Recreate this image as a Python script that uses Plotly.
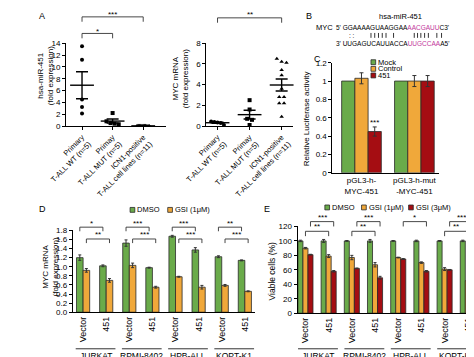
import numpy as np
import plotly.graph_objects as go

W, H = 474, 357
FONT = "Arial, 'Liberation Sans', sans-serif"
BLACK = "#000000"
GREEN = "#6aab4a"
ORANGE = "#f0a83a"
RED = "#a50d12"
PINK = "#c2379b"
EDGE = "#2a2a2a"

# ---------------- Panel A data ----------------
a_groups = ["Primary<br>T-ALL WT (n=5)", "Primay<br>T-ALL MUT (n=5)",
            "ICN1-positive<br>T-ALL cell lines (n=11)"]
mir451_wt = [13.5, 11.2, 4.5, 3.2, 2.1]
mir451_mut = [2.2, 0.8, 0.5, 0.4, 0.3]
mir451_lines = [0.05, 0.04, 0.03, 0.05, 0.02, 0.04, 0.03, 0.02, 0.04, 0.03, 0.02]
myc_wt = [0.45, 0.40, 0.35, 0.30, 0.10]
myc_mut = [2.5, 1.6, 0.7, 0.6, 0.1]
myc_lines = [6.5, 6.2, 6.1, 5.4, 4.9, 3.6, 2.8, 2.8, 2.2, 2.2, 0.9]
a_symbols = ["circle", "square", "triangle-up"]

# ---------------- Panel B text ----------------
mir_name = "hsa-miR-451"
myc_seed_5 = "GGAAAAGUAAGGAA"
myc_seed_site = "AACGAUU"
myc_seed_3 = "C"
mir_seq_a = "UUGAGUCAUUACCA"
mir_seq_site = "UUGCCAA"
mir_seq_b = "A"

# ---------------- Panel C data ----------------
luc_groups = ["pGL3-h-<br>MYC-451", "pGL3-h-mut<br>-MYC-451"]
luc_series = ["Mock", "Control", "451"]
luc_mock = [1.00, 1.00]
luc_mock_err = [0.0, 0.0]
luc_control = [1.03, 1.00]
luc_control_err = [0.06, 0.06]
luc_451 = [0.45, 1.00]
luc_451_err = [0.05, 0.06]

# ---------------- Panel D/E data ----------------
cell_lines = ["JURKAT", "RPMI-8402", "HPB-ALL", "KOPT-K1"]
constructs = ["Vector", "451"]
d_series = ["DMSO", "GSI (1\u03bcM)"]
myc_dmso = [1.20, 1.02, 1.52, 0.98, 1.67, 1.37, 1.22, 1.14]
myc_dmso_err = [0.06, 0.02, 0.07, 0.01, 0.02, 0.05, 0.02, 0.01]
myc_gsi = [0.92, 0.70, 1.03, 0.55, 0.78, 0.55, 0.59, 0.46]
myc_gsi_err = [0.04, 0.04, 0.05, 0.02, 0.01, 0.04, 0.02, 0.01]
d_sig_dmso = ["*", "***", "***", "**"]
d_sig_gsi = ["**", "***", "***", "***"]

e_series = ["DMSO", "GSI (1\u03bcM)", "GSI (3\u03bcM)"]
via_dmso = [100, 100, 100, 100, 100, 100, 100, 100]
via_dmso_err = [1, 2, 0.5, 2, 0.5, 1, 0.5, 1]
via_gsi1 = [90, 79, 77, 67, 77, 70, 61, 45]
via_gsi1_err = [1, 2, 3, 3, 0.5, 1, 2, 5]
via_gsi3 = [81, 58, 62, 49, 75, 58, 60, 37]
via_gsi3_err = [0.5, 1, 0.5, 2, 0.5, 1, 0.5, 3]
e_sig_gsi1 = ["**", "**", "", "**"]
e_sig_gsi3 = ["***", "***", "*", "***"]


def X(px):
    return px / W


def Y(py):
    return 1 - py / H


def swarm(vals, thresh, step, maxw):
    v = np.asarray(vals, float)
    order = list(np.argsort(-v, kind="stable"))
    offs = np.zeros(len(v))
    clusters, cur = [], [order[0]]
    for i in order[1:]:
        if abs(v[cur[-1]] - v[i]) < thresh:
            cur.append(i)
        else:
            clusters.append(cur)
            cur = [i]
    clusters.append(cur)
    for c in clusters:
        n = len(c)
        if n > 1:
            s = min(step, maxw / (n - 1))
            for k, idx in enumerate(c):
                offs[idx] = (k - (n - 1) / 2) * s
    return offs


fig = go.Figure()
shapes = []
annotations = []


def text(x, y, t, size=8, xanchor="center", yanchor="middle", angle=0,
         xref="paper", yref="paper", color=BLACK):
    annotations.append(dict(x=x, y=y, text=t, xref=xref, yref=yref,
                            showarrow=False, xanchor=xanchor, yanchor=yanchor,
                            textangle=angle, borderpad=0,
                            font=dict(size=size, color=color, family=FONT)))


def bracket(xref, yref, x0, x1, y, drop):
    shapes.append(dict(type="path", xref=xref, yref=yref,
                       path=f"M{x0},{y - drop} L{x0},{y} L{x1},{y} L{x1},{y - drop}",
                       line=dict(color="#333", width=0.9)))


# ---------------- Panel A scatter ----------------
def scatter_panel(groups_vals, xa, ya, thresh):
    means, sems = [], []
    for gi, vals in enumerate(groups_vals):
        offs = swarm(vals, thresh, 0.15, 0.4)
        fig.add_trace(go.Scatter(
            x=gi + offs, y=vals, mode="markers", xaxis=xa, yaxis=ya,
            marker=dict(symbol=a_symbols[gi], size=4, color=BLACK),
            cliponaxis=False, hoverinfo="skip"))
        arr = np.asarray(vals, float)
        means.append(arr.mean())
        sems.append(arr.std(ddof=1) / np.sqrt(len(arr)))
    fig.add_trace(go.Scatter(
        x=list(range(len(groups_vals))), y=means, mode="markers",
        xaxis=xa, yaxis=ya, cliponaxis=False,
        marker=dict(symbol="line-ew", size=17, color=BLACK,
                    line=dict(color=BLACK, width=1.4)),
        error_y=dict(type="data", array=sems, color=BLACK, thickness=1.4, width=6),
        hoverinfo="skip"))


scatter_panel([mir451_wt, mir451_mut, mir451_lines], "x", "y", 0.66)
scatter_panel([myc_wt, myc_mut, myc_lines], "x2", "y2", 0.38)

# brackets panel A (above plot area, paper y)
bracket("x", "paper", 0, 2, Y(5), 5 / H)
text(1, Y(3), "***", size=8, xref="x")
bracket("x", "paper", 0, 1, Y(22), 5 / H)
text(0.5, Y(19.5), "*", size=8, xref="x")
bracket("x2", "paper", 0, 2, Y(6), 5 / H)
text(1, Y(3), "**", size=8, xref="x2")

# ---------------- Panel C bars ----------------
wc = 0.25
for k, (name, vals, err, col) in enumerate(zip(
        luc_series, [luc_mock, luc_control, luc_451],
        [luc_mock_err, luc_control_err, luc_451_err], [GREEN, ORANGE, RED])):
    fig.add_trace(go.Bar(
        x=[0, 1], y=vals, width=wc, offset=-1.5 * wc + k * wc, name=name,
        xaxis="x3", yaxis="y3",
        marker=dict(color=col, line=dict(color=EDGE, width=0.8)),
        error_y=dict(type="data", array=err, color="#333", thickness=1, width=2,
                     visible=any(e > 0 for e in err)),
        hoverinfo="skip"))
text(wc, luc_451[0] + 0.1, "***", size=8, xref="x3", yref="y3")

# ---------------- Panel D bars ----------------
wd = 0.285
xs = list(range(len(cell_lines) * len(constructs)))
for k, (vals, err, col) in enumerate(zip([myc_dmso, myc_gsi],
                                         [myc_dmso_err, myc_gsi_err],
                                         [GREEN, ORANGE])):
    fig.add_trace(go.Bar(
        x=xs, y=vals, width=wd, offset=-wd + k * wd, xaxis="x4", yaxis="y4",
        marker=dict(color=col, line=dict(color=EDGE, width=0.8)),
        error_y=dict(type="data", array=err, color="#333", thickness=1, width=1.5),
        hoverinfo="skip"))

D_MAX = 1.8
for i in range(len(cell_lines)):
    g0, g1 = 2 * i - wd / 2, 2 * i + 1 - wd / 2
    o0, o1 = 2 * i + wd / 2, 2 * i + 1 + wd / 2
    yu, yl = 1.87 / D_MAX, 1.61 / D_MAX
    bracket("x4", "y4 domain", g0, g1, yu, 0.05)
    text((g0 + g1) / 2, yu + 0.05, d_sig_dmso[i], size=8, xref="x4", yref="y4 domain")
    bracket("x4", "y4 domain", o0, o1, yl, 0.05)
    text((o0 + o1) / 2, yl + 0.05, d_sig_gsi[i], size=8, xref="x4", yref="y4 domain")

# ---------------- Panel E bars ----------------
we = 0.2167
for k, (vals, err, col) in enumerate(zip([via_dmso, via_gsi1, via_gsi3],
                                         [via_dmso_err, via_gsi1_err, via_gsi3_err],
                                         [GREEN, ORANGE, RED])):
    fig.add_trace(go.Bar(
        x=xs, y=vals, width=we, offset=-1.5 * we + k * we, xaxis="x5", yaxis="y5",
        marker=dict(color=col, line=dict(color=EDGE, width=0.8)),
        error_y=dict(type="data", array=err, color="#333", thickness=1, width=1.5),
        hoverinfo="skip"))

E_MAX = 120
for i in range(len(cell_lines)):
    r0, r1 = 2 * i + we, 2 * i + 1 + we
    o0, o1 = 2 * i, 2 * i + 1
    yu, yl = 126.7 / E_MAX, 113.3 / E_MAX
    if e_sig_gsi3[i]:
        bracket("x5", "y5 domain", r0, r1, yu, 0.056)
        text((r0 + r1) / 2, yu + 0.05, e_sig_gsi3[i], size=8, xref="x5", yref="y5 domain")
    if e_sig_gsi1[i]:
        bracket("x5", "y5 domain", o0, o1, yl, 0.056)
        text((o0 + o1) / 2, yl + 0.05, e_sig_gsi1[i], size=8, xref="x5", yref="y5 domain")

# cell line underlines and names (D and E)
for xa in ["x4", "x5"]:
    for i, cl in enumerate(cell_lines):
        shapes.append(dict(type="line", xref=xa, yref="paper",
                           x0=2 * i - 0.32, x1=2 * i + 1.4, y0=Y(345.5), y1=Y(345.5),
                           line=dict(color="#333", width=1)))
        text(2 * i + 0.54, Y(347), cl, size=8.5, xref=xa, yanchor="top")


# ---------------- manual legends ----------------
def legend_item(px, py, col, label, size=7.5, box=5):
    shapes.append(dict(type="rect", xref="paper", yref="paper",
                       x0=X(px), x1=X(px + box), y0=Y(py + box / 2), y1=Y(py - box / 2),
                       fillcolor=col, line=dict(color=EDGE, width=0.8)))
    text(X(px + box + 1.5), Y(py), label, size=size, xanchor="left")


for j, (lab, col) in enumerate(zip(luc_series, [GREEN, ORANGE, RED])):
    legend_item(356, 51.5 + 6.8 * j, col, lab, size=7.5)
for px, lab, col in zip([100, 140], d_series, [GREEN, ORANGE]):
    legend_item(px, 203, col, lab)
for px, lab, col in zip([307, 346, 396], e_series, [GREEN, ORANGE, RED]):
    legend_item(px, 200.5, col, lab)

# ---------------- Panel B text ----------------
SEQ = 6.5
text(X(387), Y(5), mir_name, size=7.5)
text(X(297), Y(16), "MYC", size=7.5, xanchor="left")
text(X(318), Y(16),
     f"5' {myc_seed_5}<span style='color:{PINK}'>{myc_seed_site}</span>{myc_seed_3}3'",
     size=SEQ, xanchor="left")
text(X(332), Y(24), ": :", size=6.5, xanchor="left")
# base-pairing ticks (Watson-Crick pairs)
pair_ticks_px = [356, 360, 364, 368, 372, 380, 402, 405.5, 409, 413, 417, 426, 431]
for px in pair_ticks_px:
    shapes.append(dict(type="line", xref="paper", yref="paper",
                       x0=X(px), x1=X(px), y0=Y(21.5), y1=Y(26.5),
                       line=dict(color=BLACK, width=0.8)))
text(X(318), Y(32),
     f"3' {mir_seq_a}<span style='color:{PINK}'>{mir_seq_site}</span>{mir_seq_b}5'",
     size=SEQ, xanchor="left")

# ---------------- axis titles and panel letters ----------------
text(X(9.5), Y(65), "hsa-miR-451<br>(fold expression)", size=8, angle=-90)
text(X(153), Y(68), "MYC mRNA<br>(fold expression)", size=8, angle=-90)
text(X(287), Y(110), "Relative Luciferase activity", size=8, angle=-90)
text(X(15), Y(262), "MYC mRNA<br>(fold expression)", size=8, angle=-90)
text(X(251), Y(266), "Viable cells (%)", size=8.5, angle=-90)
for lab, px, py in [("A", 2, 4), ("B", 286, 4), ("C", 294, 48), ("D", 2, 202), ("E", 241, 202)]:
    text(X(px), Y(py), lab, size=9, xanchor="left")


# ---------------- axes ----------------
def yax(domain, rng, dtick, anchor, fmt=None, size=8):
    d = dict(domain=domain, range=rng, dtick=dtick, tick0=0, anchor=anchor,
             showline=True, linecolor=BLACK, linewidth=1, ticks="outside",
             ticklen=3, tickcolor=BLACK, showgrid=False, zeroline=False,
             fixedrange=True, tickfont=dict(size=size, color=BLACK, family=FONT))
    if fmt:
        d["tickformat"] = fmt
    return d


def xax(domain, rng, anchor, tickvals, ticktext, angle=0, size=8, ticks="outside"):
    return dict(domain=domain, range=rng, anchor=anchor, tickvals=tickvals,
                ticktext=ticktext, tickangle=angle, showline=True, linecolor=BLACK,
                linewidth=1, ticks=ticks, ticklen=3, tickcolor=BLACK,
                showgrid=False, zeroline=False, fixedrange=True,
                tickfont=dict(size=size, color=BLACK, family=FONT))


de_ticktext = [c for _ in cell_lines for c in constructs]

fig.update_layout(
    width=W, height=H, margin=dict(l=0, r=0, t=0, b=0),
    paper_bgcolor="white", plot_bgcolor="white", showlegend=False,
    font=dict(family=FONT, color=BLACK),
    xaxis=xax([X(32), X(138)], [-0.52, 2.74], "y", [0, 1, 2], a_groups, -45, 7.5),
    yaxis=yax([Y(117), Y(32)], [0, 14], 2, "x"),
    xaxis2=xax([X(181), X(273)], [-0.35, 2.35], "y2", [0, 1, 2], a_groups, -45, 7.5),
    yaxis2=yax([Y(117), Y(32)], [0, 8], 2, "x2"),
    xaxis3=xax([X(315), X(428)], [-0.55, 1.46], "y3", [0, 1], luc_groups, 0, 8, ""),
    yaxis3=yax([Y(165), Y(52)], [0, 1.2], 0.2, "x3"),
    xaxis4=xax([X(39), X(233)], [-0.45, 7.45], "y4", xs, de_ticktext, -90, 9, ""),
    yaxis4=yax([Y(308), Y(224)], [0, D_MAX], 0.2, "x4", ".1f"),
    xaxis5=xax([X(278), X(470)], [-0.34, 7.45], "y5", xs, de_ticktext, -90, 9, ""),
    yaxis5=yax([Y(309), Y(220)], [0, E_MAX], 20, "x5"),
    shapes=shapes, annotations=annotations,
)

fig.write_html("out.html")
